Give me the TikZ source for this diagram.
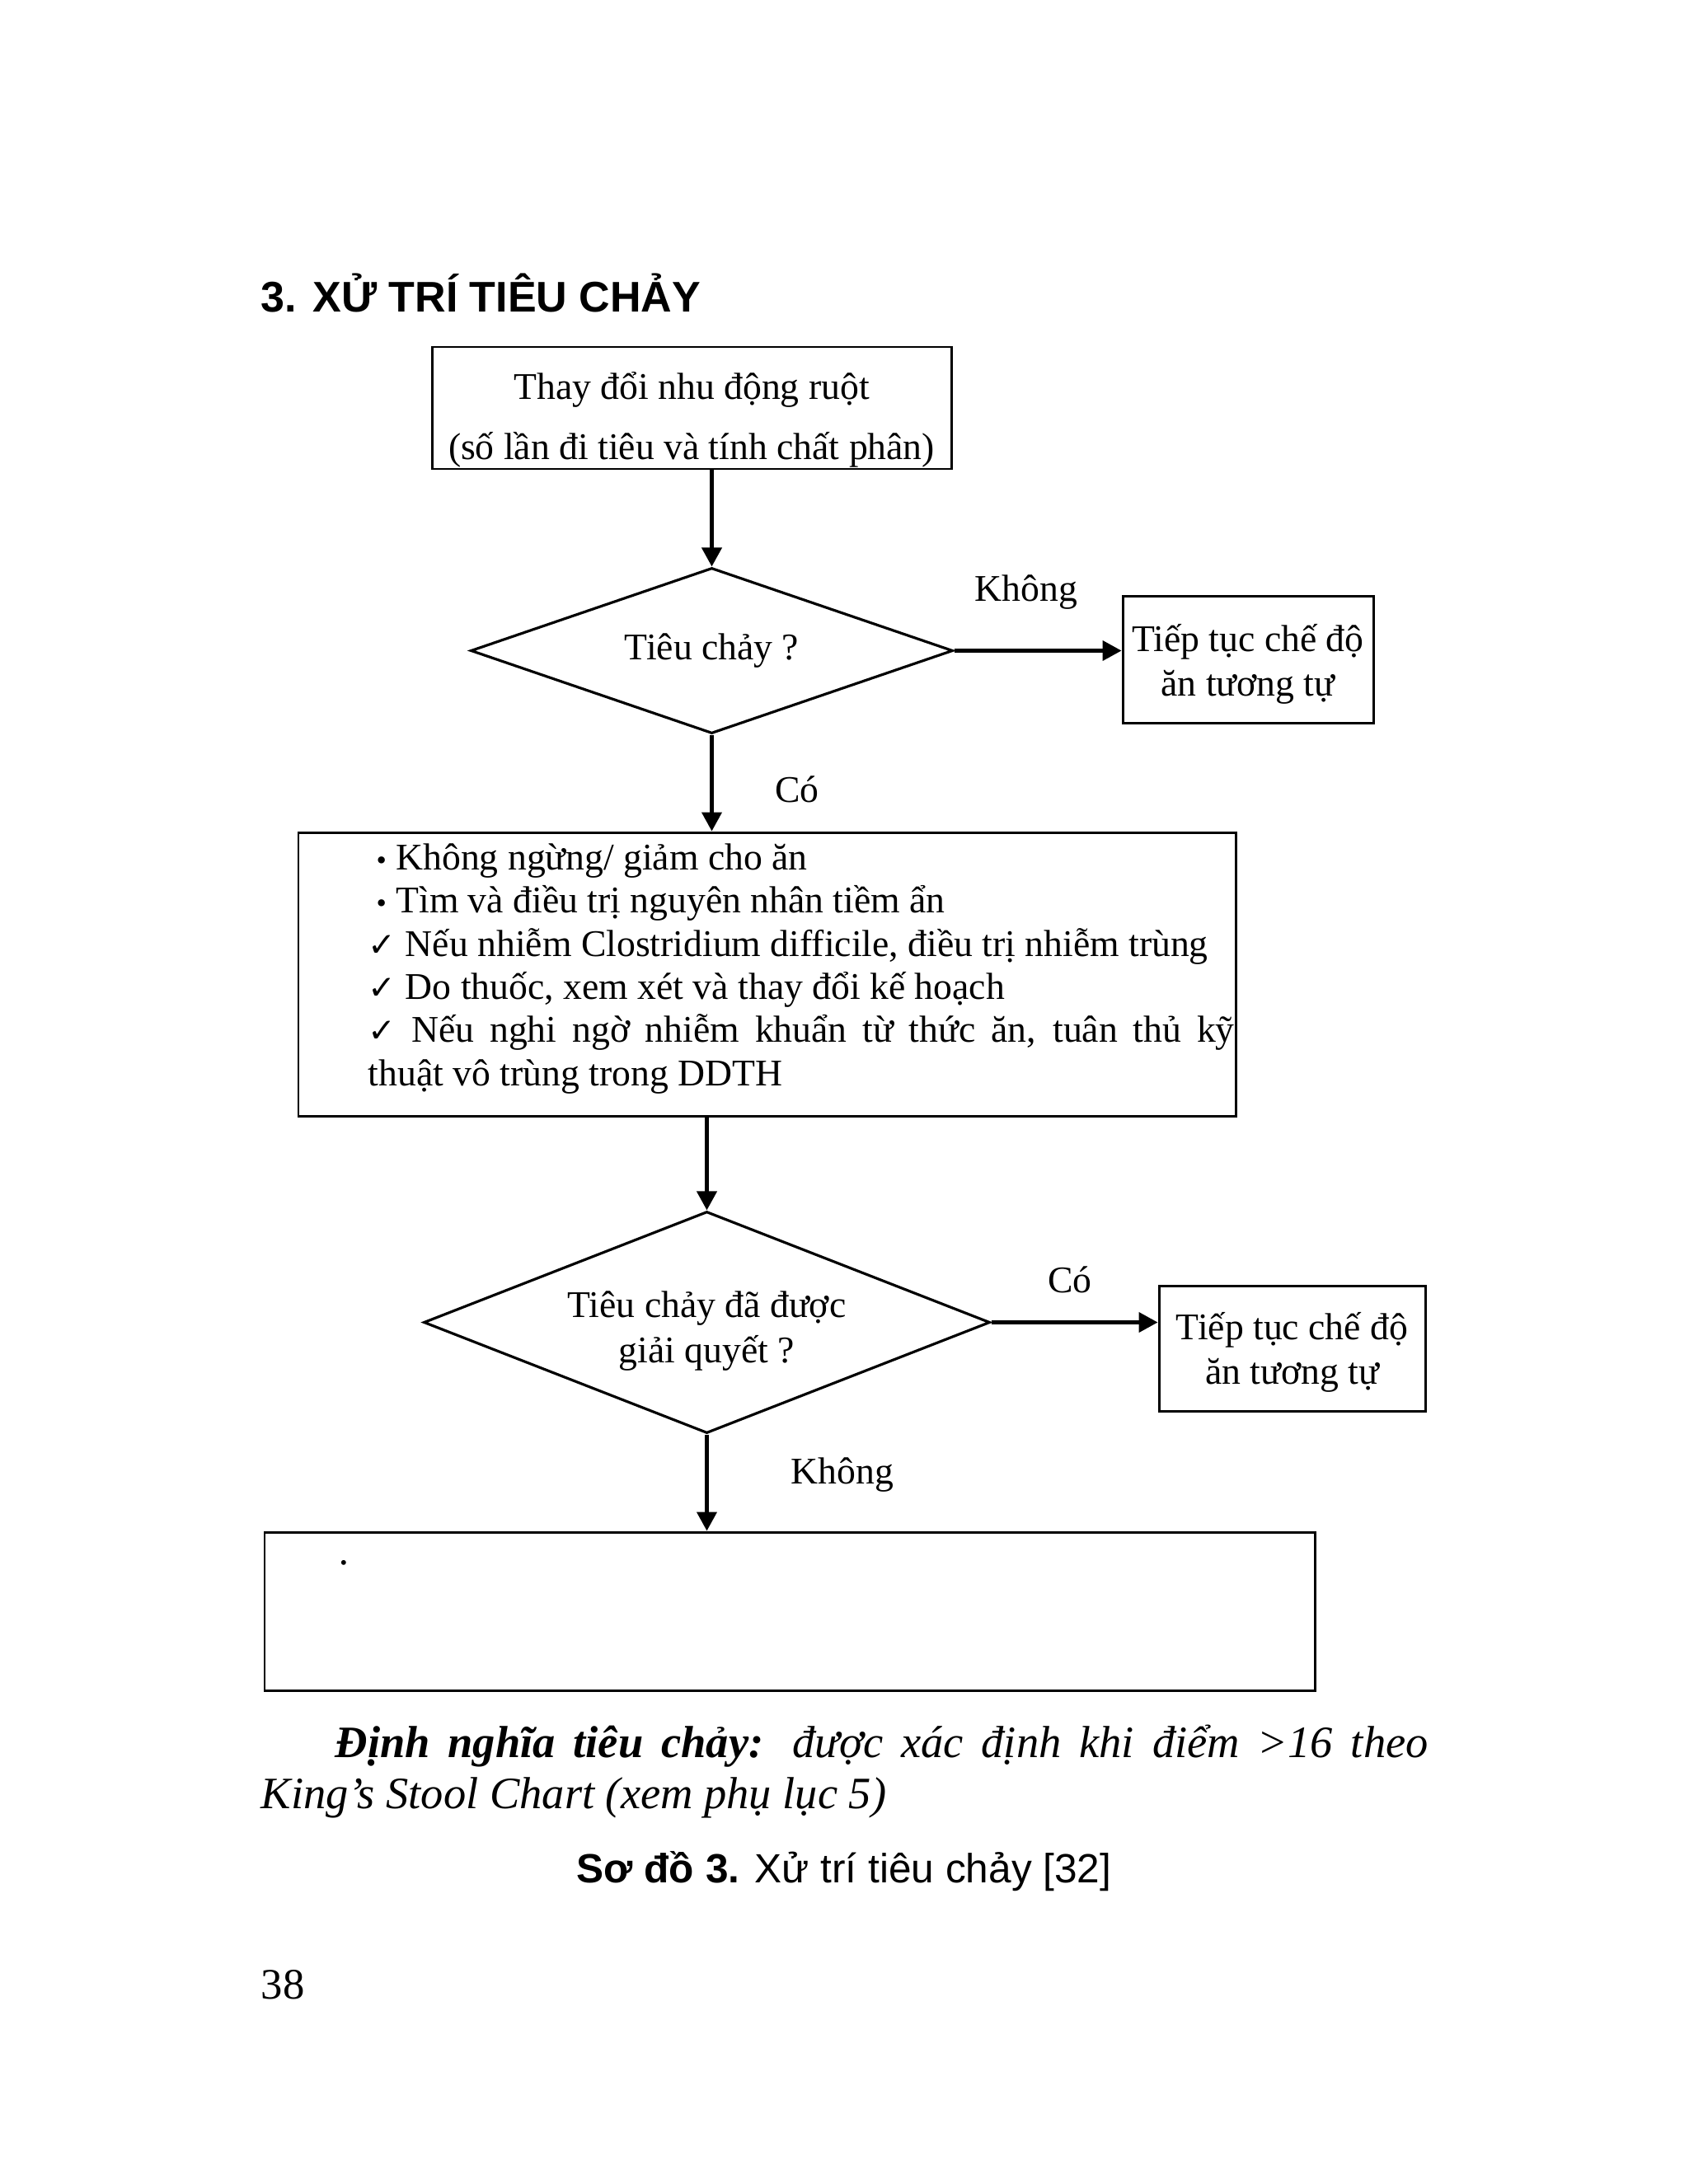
\documentclass[tikz,border=0pt]{standalone}
\usepackage{fontspec}
\setmainfont{Liberation Serif}
\setsansfont{Liberation Sans}
\newfontfamily\ckfont{DejaVu Sans}
\usetikzlibrary{arrows.meta}
\usetikzlibrary{shapes.geometric}
\newcommand\ckmark{{\ckfont\fontsize{11.5}{14.9}\selectfont ✓}}
\newcommand\dotmark{{\fontsize{10}{14.9}\selectfont •}}
\tikzset{
  box/.style={draw, line width=0.85pt, inner sep=0pt},
  choice/.style={draw, diamond, aspect=2.5, line width=0.9pt, inner sep=0pt, align=center},
  flow/.style={-{Triangle[length=2.3mm,width=2.4mm]}, line width=1.2pt},
  txt/.style={font=\fontsize{13}{15.4}\selectfont},
}
\begin{document}
\begin{tikzpicture}
  \path[fill=white,use as bounding box] (0,0) rectangle (20.48,-26.5);
  \node (ttl) [anchor=west, inner sep=0pt, font=\sffamily\bfseries\fontsize{14.8}{18}\selectfont]
    at (3.16,-3.55) {3. XỬ TRÍ TIÊU CHẢY};
  \node (b1) [box, minimum width=6.30cm, minimum height=1.48cm, align=center,
    font=\fontsize{13}{20.8}\selectfont] at (8.39,-4.95)
    {\rule{0pt}{17.5pt}Thay đổi nhu động ruột\\(số lần đi tiêu và tính chất phân)};
  \node (d1) [choice, txt, minimum width=5.85cm, minimum height=2.01cm] at (8.635,-7.895)
    {Tiêu chảy ?};
  \node (b2) [box, txt, minimum width=3.04cm, minimum height=1.54cm, align=center]
    at (15.14,-8.00) {\rule{0pt}{13pt}Tiếp tục chế độ\\ăn tương tự};
  \node (b3) [box, minimum width=11.37cm, minimum height=3.44cm] at (9.305,-11.82) {};
  \node (b3t) [anchor=north west, text width=10.51cm, align=justify, inner sep=0pt,
    font=\fontsize{13}{14.9}\selectfont] at (4.46,-10.23)
    {\hspace*{0.1cm}\dotmark\ Không ngừng/ giảm cho ăn\\
     \hspace*{0.1cm}\dotmark\ Tìm và điều trị nguyên nhân tiềm ẩn\\
     \ckmark\ Nếu nhiễm Clostridium difficile, điều trị nhiễm trùng\\
     \ckmark\ Do thuốc, xem xét và thay đổi kế hoạch\\
     \ckmark\ Nếu nghi ngờ nhiễm khuẩn từ thức ăn, tuân thủ kỹ\linebreak
     thuật vô trùng trong DDTH};
  \node (d2) [choice, txt, minimum width=6.87cm, minimum height=2.69cm] at (8.575,-16.045)
    {\rule{0pt}{15pt}Tiêu chảy đã được\\giải quyết ?};
  \node (b4) [box, txt, minimum width=3.23cm, minimum height=1.52cm, align=center]
    at (15.675,-16.36) {\rule{0pt}{12pt}Tiếp tục chế độ\\ăn tương tự};
  \node (b5) [box, minimum width=12.74cm, minimum height=1.92cm] at (9.58,-19.55) {};
  \node (b5d) [inner sep=0pt, font=\fontsize{7}{8}\selectfont] at (4.17,-18.99) {•};

  \node (no1) [txt] at (12.45,-7.19) {Không};
  \node (yes1) [txt] at (9.67,-9.58) {Có};
  \node (yes2) [txt] at (12.98,-15.53) {Có};
  \node (no2) [txt] at (10.22,-17.90) {Không};

  \draw[flow] (b1.south -| d1.north) -- (d1.north);
  \draw[flow] (d1.east) -- (d1.east -| b2.west);
  \draw[flow] (d1.south) -- (d1.south |- b3.north);
  \draw[flow] (d2.north |- b3.south) -- (d2.north);
  \draw[flow] (d2.east) -- (d2.east -| b4.west);
  \draw[flow] (d2.south) -- (d2.south |- b5.north);

  \node (defn) [anchor=north west, text width=14.16cm, align=justify, inner sep=0pt,
    font=\fontsize{15.5}{17.6}\selectfont\itshape] at (3.16,-20.92)
    {\hspace*{0.9cm}\textbf{Định nghĩa tiêu chảy:} được xác định khi điểm >16 theo\linebreak
     King’s Stool Chart (xem phụ lục 5)};
  \node (cap) [font=\sffamily\fontsize{14.1}{17}\selectfont] at (10.24,-22.71)
    {\textbf{Sơ đồ 3.} Xử trí tiêu chảy [32]};
  \node (pg) [anchor=west, inner sep=0pt, font=\fontsize{15}{18}\selectfont] at (3.16,-24.08) {38};
\end{tikzpicture}
\end{document}
